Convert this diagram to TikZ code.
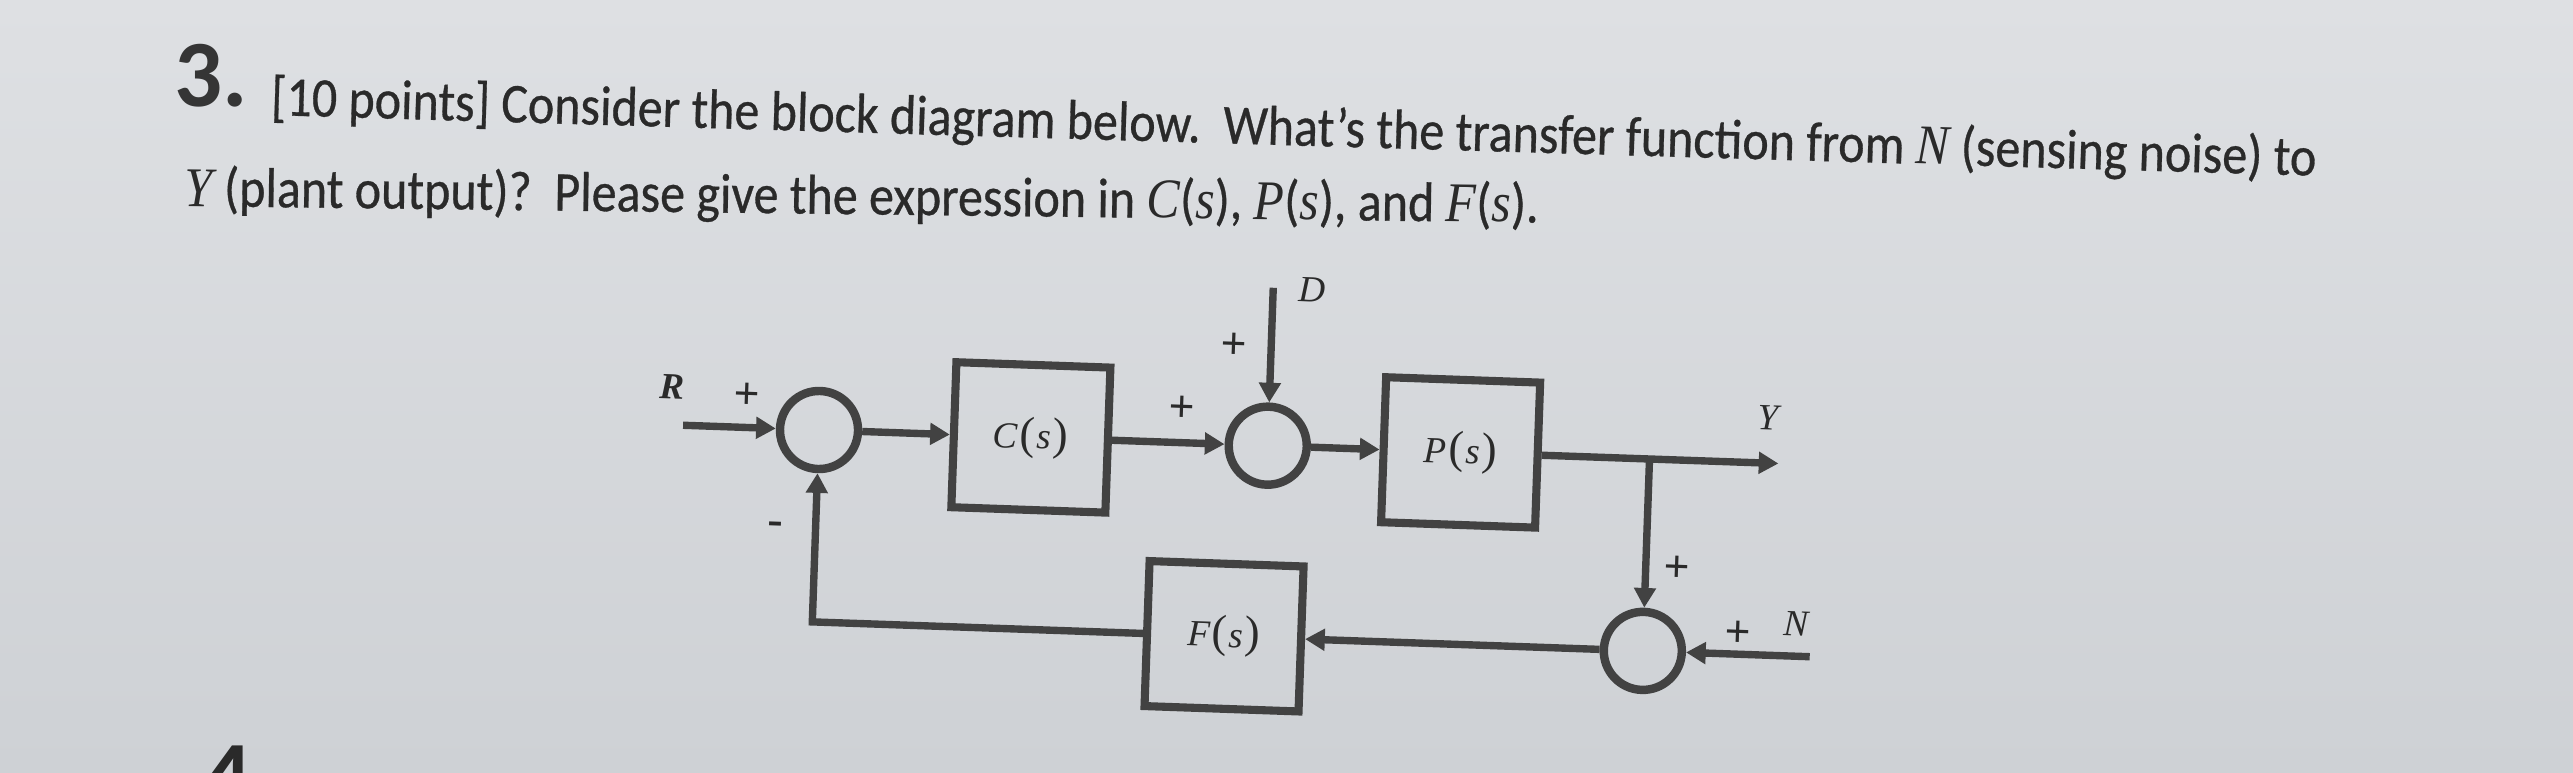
\documentclass[tikz,border=0pt]{standalone}
\usepackage{fontspec}
\setmainfont{Carlito}
\newfontfamily\ttlfont{Carlito}[FakeBold=0.6]
\newfontfamily\serif{Liberation Serif}
\usetikzlibrary{arrows.meta}
\definecolor{ink}{HTML}{2A2A2A}
\definecolor{dgm}{HTML}{424242}
\definecolor{papertop}{HTML}{DEE0E3}
\definecolor{paperbot}{HTML}{CED1D5}
\newcommand{\mi}[1]{{\serif\itshape #1}}
\newcommand{\tfn}[1]{{\serif\itshape\fontsize{10.5}{11}\selectfont #1\hspace{0.6pt}{\upshape\fontsize{13}{13}\selectfont(}\hspace{0.5pt}s\hspace{0.5pt}{\upshape\fontsize{13}{13}\selectfont)}}}
\begin{document}
\begin{tikzpicture}[x=0.01cm,y=-0.01cm,
  blk/.style={draw=dgm, line width=2.3pt, minimum width=1.54cm, minimum height=1.45cm, inner sep=0pt, text=ink},
  sumnd/.style={circle, draw=dgm, line width=2.4pt, minimum size=0.78cm, inner sep=0pt},
  conn/.style={draw=dgm, line width=2.1pt},
  arr/.style={conn, -{Triangle[length=5.6pt,width=6pt]}},
  lbl/.style={text=ink, inner sep=0pt, font=\serif\itshape\fontsize{10.5}{11}\selectfont},
  sgn/.style={text=ink, inner sep=0pt, font=\serif\bfseries\fontsize{13}{13}\selectfont},
  ttl/.style={text=ink, inner sep=0pt, anchor=base west}]

\useasboundingbox (0,0) rectangle (2573,773);
\clip (0,0) rectangle (2573,773);
\shade[top color=papertop, bottom color=paperbot] (0,0) rectangle (2573,773);

% question text
\node[ttl, font=\bfseries\fontsize{27}{27}\selectfont, text=ink!95] (num) at (174,107) {3.};
\node[ttl, rotate=-1.7, font=\ttlfont] (line1) at (270,115) {\scalebox{1}[1.12]{\resizebox{20.45cm}{!}{[10 points] Consider the block diagram below.\ \ What’s the transfer function from \mi{N} (sensing noise) to}}};
\node[ttl, rotate=-0.7, font=\ttlfont] (line2) at (184,206) {\scalebox{1}[1.12]{\resizebox{13.53cm}{!}{\mi{Y} (plant output)?\ \ Please give the expression in \mi{C}(\mi{s}), \mi{P}(\mi{s}), and \mi{F}(\mi{s}).}}};
\node[ttl, font=\bfseries\fontsize{27}{27}\selectfont] (next) at (203,807) {4};

% block diagram
\begin{scope}[shift={(819,430)}, rotate=-2.0, transform shape]
  \coordinate (rin) at (-136,0);
  \node[sumnd] (s1) at (0,0) {};
  \node[blk] (C) at (212,0) {\tfn{C}};
  \node[sumnd] (s2) at (449,0) {};
  \coordinate (dtop) at (449,-158);
  \node[blk] (P) at (642,0) {\tfn{P}};
  \coordinate (yend) at (960,0);
  \coordinate (br) at (831,0);
  \node[sumnd] (s3) at (831,192) {};
  \coordinate (nin) at (998,192);
  \node[blk] (F) at (412,192) {\tfn{F}};
  \coordinate (corner) at (0,192);

  \draw[arr] (rin) -- (s1);
  \draw[arr] (s1) -- (C);
  \draw[arr] (C) -- (s2);
  \draw[arr] (dtop) -- (s2);
  \draw[arr] (s2) -- (P);
  \draw[arr] (P) -- (yend);
  \draw[arr] (br) -- (s3);
  \draw[arr] (nin) -- (s3);
  \draw[arr] (s3) -- (F);
  \draw[arr] (F.west) -- (corner) -- (s1);

  \node[lbl, font=\serif\bfseries\itshape\fontsize{10.5}{11}\selectfont] (lR) at (-148,-38) {R};
  \node[sgn] (pR) at (-73,-31) {+};
  \node[sgn] (mfb) at (-40,100) {-};
  \node[sgn] (pC) at (362,-34) {+};
  \node[sgn] (pD) at (412,-98) {+};
  \node[lbl] (lD) at (488,-157) {D};
  \node[lbl] (lY) at (948,-45) {Y};
  \node[sgn] (pY) at (862,109) {+};
  \node[sgn] (pN) at (926,172) {+};
  \node[lbl] (lN) at (983,160) {N};
\end{scope}
\end{tikzpicture}
\end{document}
